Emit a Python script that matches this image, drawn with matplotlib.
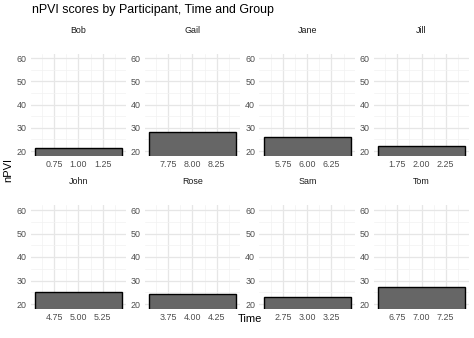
import numpy as np
import matplotlib
matplotlib.use("Agg")
import matplotlib.pyplot as plt

# data
participants = ["Bob", "Gail", "Jane", "Jill", "John", "Rose", "Sam", "Tom"]
times = [1, 8, 6, 2, 5, 4, 3, 7]
npvi = [21.5, 28.1, 26.2, 22.1, 25.0, 24.1, 23.1, 27.1]

plt.rcParams['font.family'] = ['Liberation Sans', 'DejaVu Sans']

W, H = 474, 338
fig = plt.figure(figsize=(W / 100, H / 100), dpi=100)

# panel extents in pixels (left, right) and (top, bottom)
cols = [(30.6, 126.3), (144.6, 240.3), (259.4, 355.1), (373.7, 469.4)]
rows = [(53.6, 155.7), (205.3, 308.7)]

grid_major = "#E6E6E6"
grid_minor = "#F2F2F2"
tick_col = "#4D4D4D"

for i, name in enumerate(participants):
    r, c = divmod(i, 4)
    x0, x1 = cols[c]
    y0, y1 = rows[r]
    ax = fig.add_axes([x0 / W, 1 - y1 / H, (x1 - x0) / W, (y1 - y0) / H])
    t = times[i]
    ax.bar([t], [npvi[i]], width=0.9, color="#666666", edgecolor="black",
           linewidth=1.0, zorder=3)
    ax.set_xlim(t - 0.495, t + 0.495)
    ax.set_ylim(18, 62)
    ax.set_xticks([t - 0.25, t, t + 0.25])
    ax.set_xticklabels([f"{v:.2f}" for v in [t - 0.25, t, t + 0.25]])
    ax.set_xticks([t - 0.375, t - 0.125, t + 0.125, t + 0.375], minor=True)
    ax.set_yticks([20, 30, 40, 50, 60])
    ax.set_yticks([25, 35, 45, 55], minor=True)
    ax.grid(True, which="major", color=grid_major, linewidth=0.9, zorder=0)
    ax.grid(True, which="minor", color=grid_minor, linewidth=0.5, zorder=0)
    ax.set_axisbelow(True)
    for s in ax.spines.values():
        s.set_visible(False)
    ax.tick_params(which="both", length=0, labelsize=6.4, colors=tick_col, pad=3)
    ax.set_title(name, fontsize=6.4, color="#1A1A1A", pad=15)

fig.text(32 / W, 1 - 10 / H, "nPVI scores by Participant, Time and Group",
         fontsize=8.9, ha="left", va="center", color="black")
fig.text(8 / W, 1 - 170 / H, "nPVI", fontsize=8, rotation=90,
         ha="center", va="center")
fig.text(250 / W, 1 - 319 / H, "Time", fontsize=8, ha="center", va="center")

fig.savefig("out.png", dpi=100, facecolor="white")
